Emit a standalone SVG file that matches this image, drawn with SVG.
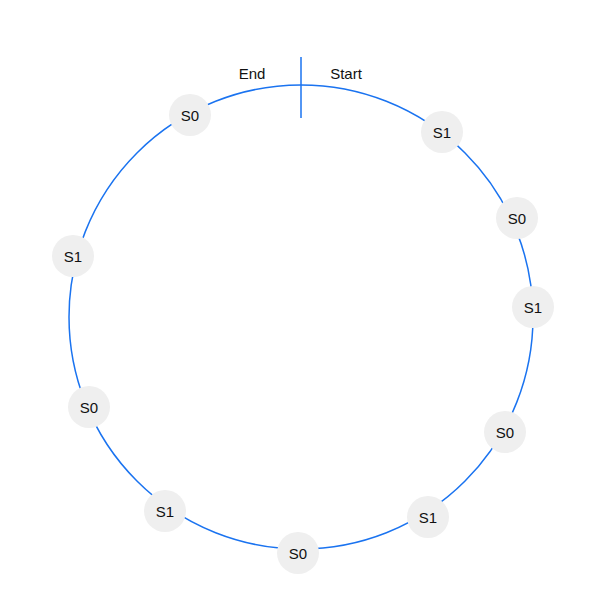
<svg xmlns="http://www.w3.org/2000/svg" width="600" height="600" viewBox="0 0 600 600">
<style>
.ring{fill:none;stroke:#1a73f0;stroke-width:1.5}
.n circle{fill:#efefef}
text{font-family:"Liberation Sans",Arial,sans-serif;font-size:15px;fill:#111;text-anchor:middle;dominant-baseline:central}
</style>
<rect width="600" height="600" fill="#fff"/>
<g id="connectors">
<circle class="ring" cx="301" cy="317" r="232"/>
<line class="ring" x1="301" y1="57" x2="301" y2="118"/>
</g>
<text x="252" y="73">End</text>
<text x="346" y="73">Start</text>
<g id="n1" class="n"><circle cx="190" cy="115" r="21"/><text x="190" y="115">S0</text></g>
<g id="n2" class="n"><circle cx="442" cy="132" r="21"/><text x="442" y="132">S1</text></g>
<g id="n3" class="n"><circle cx="517" cy="218" r="21"/><text x="517" y="218">S0</text></g>
<g id="n4" class="n"><circle cx="533" cy="307" r="21"/><text x="533" y="307">S1</text></g>
<g id="n5" class="n"><circle cx="505" cy="432" r="21"/><text x="505" y="432">S0</text></g>
<g id="n6" class="n"><circle cx="428" cy="517" r="21"/><text x="428" y="517">S1</text></g>
<g id="n7" class="n"><circle cx="298" cy="553" r="21"/><text x="298" y="553">S0</text></g>
<g id="n8" class="n"><circle cx="165" cy="511" r="21"/><text x="165" y="511">S1</text></g>
<g id="n9" class="n"><circle cx="89" cy="407" r="21"/><text x="89" y="407">S0</text></g>
<g id="n10" class="n"><circle cx="73" cy="256" r="21"/><text x="73" y="256">S1</text></g>
</svg>
